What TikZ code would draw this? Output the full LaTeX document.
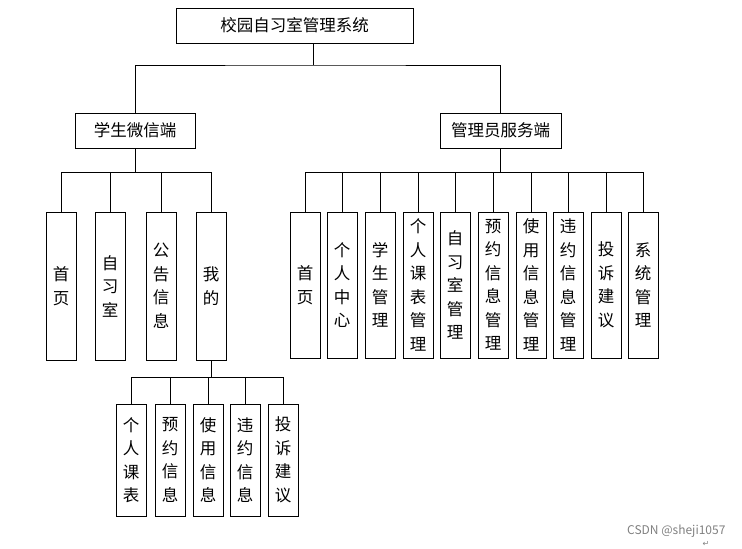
\documentclass[tikz,border=0pt]{standalone}
\usepackage{fontspec}
\setmainfont{Noto Sans CJK SC}
\newfontfamily\dv{DejaVu Sans}
\begin{document}
\begin{tikzpicture}[x=1pt,y=-1pt,
  box/.style={draw,line width=0.8pt,inner sep=0pt,font=\fontsize{16.5}{23.5}\selectfont,align=center},
  ln/.style={line width=0.8pt}]
\useasboundingbox (0,0) rectangle (742,549);
\node[box,minimum width=237,minimum height=35] (root) at (294.5,25.5) {校园自习室管理系统};
\node[box,minimum width=120,minimum height=35] (L) at (135,130.5) {学生微信端};
\node[box,minimum width=121,minimum height=35] (R) at (500.5,130.5) {管理员服务端};
\coordinate (rb) at (313,65);
\draw[ln] (root.south -| rb) -- (rb);
\draw[ln] (L.north) |- (rb) -| (R.north);
% left children
\foreach \n/\x/\t in {l1/61/首\\页, l2/110/自\\习\\室, l3/161/公\\告\\信\\息, l4/211/我\\的}{
  \node[box,minimum width=30,minimum height=148] (\n) at (\x,286) {\t};
  \draw[ln] (L.south) |- (\x,172) -- (\n.north);
}
% right children
\foreach \n/\x/\t in {r1/305/首\\页, r2/342/个\\人\\中\\心, r3/380/学\\生\\管\\理, r4/418/个\\人\\课\\表\\管\\理, r5/455/自\\习\\室\\管\\理, r6/493/预\\约\\信\\息\\管\\理, r7/531/使\\用\\信\\息\\管\\理, r8/568/违\\约\\信\\息\\管\\理, r9/606/投\\诉\\建\\议, r10/643/系\\统\\管\\理}{
  \node[box,minimum width=30,minimum height=146] (\n) at (\x,285) {\t};
  \draw[ln] (R.south) |- (\x,172) -- (\n.north);
}
% sub children of 我的
\foreach \n/\x/\t in {s1/131/个\\人\\课\\表, s2/170/预\\约\\信\\息, s3/208/使\\用\\信\\息, s4/245/违\\约\\信\\息, s5/283/投\\诉\\建\\议}{
  \node[box,minimum width=30,minimum height=112] (\n) at (\x,460) {\t};
  \draw[ln] (l4.south) |- (\x,377) -- (\n.north);
}
\node[font=\fontsize{12}{14}\selectfont,text=gray,anchor=east] (wm) at (729,531) {CSDN @sheji1057};
\node[font=\dv\fontsize{8}{9}\selectfont,text=gray] (rt) at (706,544) {↵};
\end{tikzpicture}
\end{document}
